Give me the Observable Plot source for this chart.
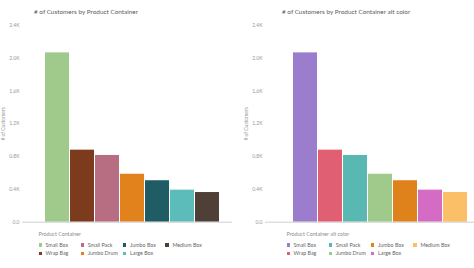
<!DOCTYPE html>
<html>
<head>
<meta charset="utf-8">
<script src="https://cdn.jsdelivr.net/npm/d3@7"></script>
<script src="https://cdn.jsdelivr.net/npm/@observablehq/plot@0.6"></script>
<style>
  body { margin: 0; background: #fff; font-family: Lato, "Open Sans", sans-serif; }
  #wrap { display: flex; width: 474px; height: 268px; overflow: hidden; }
  .chart { position: relative; width: 237px; height: 268px; }
  .title { position: absolute; top: 8px; font-size: 6.4px; color: #5a5a5a; white-space: nowrap; }
  .chart svg { position: absolute; top: 20px; left: 0; overflow: visible; }
  .legend { position: absolute; top: 231px; font-size: 5.3px; color: #666; }
  .legend .ltitle { color: #8c8c8c; margin-bottom: 4px; }
  .legend .items { display: grid; grid-auto-flow: column; grid-template-rows: 8.3px 8.3px; grid-auto-columns: 42.3px; }
  .legend .item { display: flex; align-items: center; white-space: nowrap; }
  .legend .sw { width: 3.4px; height: 3.4px; margin-right: 3.6px; }
</style>
</head>
<body>
<div id="wrap"></div>
<script>
// Customer counts per product container
const containers = ["Small Box", "Wrap Bag", "Small Pack", "Jumbo Drum", "Jumbo Box", "Large Box", "Medium Box"];
const customers = [2066, 879, 814, 585, 506, 391, 362];

// Two palettes for the same breakdown
const paletteMain = ["#a0ca8c", "#7d3b1e", "#b76e82", "#e1821d", "#1f5c63", "#5cbcba", "#4f4037"];
const paletteAlt = ["#9c7ccd", "#e15f73", "#5ab8b2", "#a0ca8c", "#e0821c", "#d46cc6", "#fbbf68"];

const yTicks = [0, 400, 800, 1200, 1600, 2000, 2400];
const fmt = d => d === 0 ? "0.0" : (d / 1000).toFixed(1) + "K";

const rows = containers.map((c, i) => ({container: c, customers: customers[i]}));

function chart({title, legendTitle, palette, titleLeft, legendLeft, marginLeft, marginRight, insetLeft, insetRight}) {
  const box = document.createElement("div");
  box.className = "chart";

  const t = document.createElement("div");
  t.className = "title";
  t.style.left = titleLeft + "px";
  t.textContent = title;
  box.appendChild(t);

  const svg = Plot.plot({
    width: 237,
    height: 206,
    marginTop: 5,
    marginBottom: 4.3,
    marginLeft,
    marginRight,
    style: {fontFamily: "Lato, sans-serif", fontSize: "5px", color: "#999", background: "transparent"},
    x: {domain: containers, padding: 0.035, insetLeft, insetRight, axis: null},
    y: {domain: [0, 2400]},
    color: {domain: containers, range: palette},
    marks: [
      Plot.barY(rows, {x: "container", y: "customers", fill: "container"}),
      Plot.ruleY([0], {stroke: "#cfcfcf", strokeWidth: 1}),
      Plot.axisY({
        ticks: yTicks, tickFormat: fmt, tickSize: 0, tickPadding: 3,
        label: "# of Customers", labelAnchor: "center", labelArrow: "none", labelOffset: 21,
        fill: "#999"
      })
    ]
  });
  box.appendChild(svg);

  const lg = document.createElement("div");
  lg.className = "legend";
  lg.style.left = legendLeft + "px";
  const lt = document.createElement("div");
  lt.className = "ltitle";
  lt.textContent = legendTitle;
  lg.appendChild(lt);
  const items = document.createElement("div");
  items.className = "items";
  containers.forEach((c, i) => {
    const it = document.createElement("div");
    it.className = "item";
    const sw = document.createElement("span");
    sw.className = "sw";
    sw.style.background = palette[i];
    it.appendChild(sw);
    it.appendChild(document.createTextNode(c));
    items.appendChild(it);
  });
  lg.appendChild(items);
  box.appendChild(lg);
  return box;
}

const wrap = document.getElementById("wrap");
wrap.appendChild(chart({
  title: "# of Customers by Product Container",
  legendTitle: "Product Container",
  palette: paletteMain,
  titleLeft: 34, legendLeft: 38.5,
  marginLeft: 22, marginRight: 5, insetLeft: 19, insetRight: 9.5
}));
wrap.appendChild(chart({
  title: "# of Customers by Product Container alt color",
  legendTitle: "Product Container alt color",
  palette: paletteAlt,
  titleLeft: 45, legendLeft: 49.5,
  marginLeft: 28, marginRight: 0, insetLeft: 24, insetRight: 3.5
}));
</script>
</body>
</html>
